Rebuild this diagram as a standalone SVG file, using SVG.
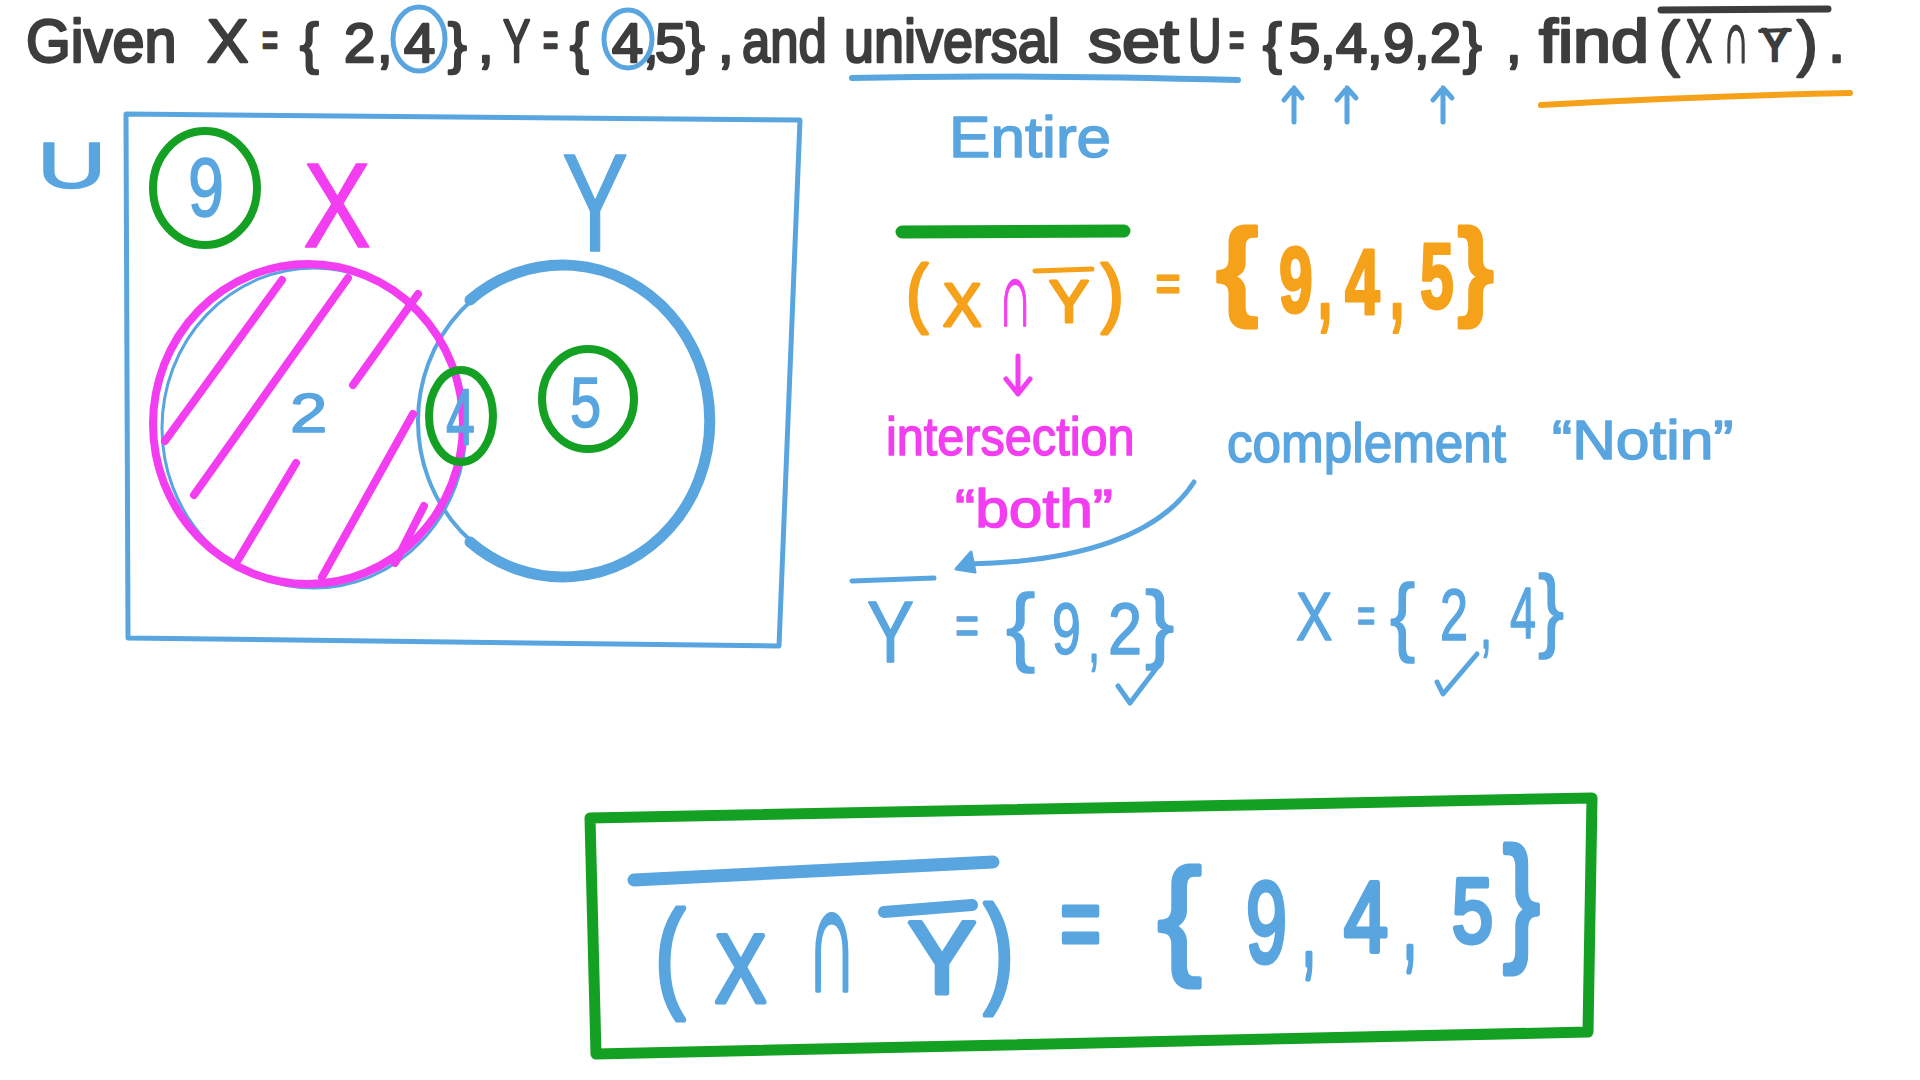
<svg xmlns="http://www.w3.org/2000/svg" width="1920" height="1080" viewBox="0 0 1920 1080">
<style>
text{font-family:"Liberation Sans",Arial,sans-serif;stroke-linejoin:round;paint-order:stroke}
.dk{fill:#3d3d3d;stroke:#3d3d3d;stroke-width:2.5}
.bl{fill:#58a5e0;stroke:#58a5e0;stroke-width:1.5}
.mg{fill:#f23ef0;stroke:#f23ef0;stroke-width:1.5}
.or{fill:#f5a11a;stroke:#f5a11a;stroke-width:3}
.ln{fill:none;stroke-linecap:round;stroke-linejoin:round}
.lb{stroke:#58a5e0}
.lm{stroke:#f23ef0}
.lg{stroke:#14a023}
.lo{stroke:#f5a11a}
.ld{stroke:#3d3d3d}
.big{stroke-width:5}
</style>
<rect width="1920" height="1080" fill="#ffffff"/>

<g id="title" font-size="62">
  <text class="dk" transform="translate(26,62) scale(0.93,1)">Given</text>
  <text class="dk" x="207" y="62">X</text>
  <text class="dk" transform="translate(262,56) scale(0.57,1)" font-size="48">=</text>
  <text class="dk" x="300 344 377 404 448 478" y="62" font-size="56">{2,4},</text>
  <text class="dk" transform="translate(503,62) scale(0.66,1)">Y</text>
  <text class="dk" transform="translate(543,56) scale(0.54,1)" font-size="48">=</text>
  <text class="dk" x="570 612 643 655 686 718" y="62" font-size="56">{4,5},</text>
  <text class="dk" transform="translate(742,62) scale(0.82,1)">and</text>
  <text class="dk" transform="translate(844,62) scale(0.87,1)">universal</text>
  <text class="dk" transform="translate(1088,62) scale(1.1,1)">set</text>
  <text class="dk" transform="translate(1188,62) scale(0.75,1)">U</text>
  <text class="dk" transform="translate(1229,56) scale(0.54,1)" font-size="48">=</text>
  <text class="dk" x="1263 1289 1320 1336 1367 1383 1414 1430 1463 1506" y="62" font-size="56">{5,4,9,2},</text>
  <text class="dk" transform="translate(1539,62) scale(1.1,1)">find</text>
  <text class="dk" x="1659" y="64">(</text>
  <text class="dk" transform="translate(1686,62) scale(0.63,1)">X</text>
  <text class="dk" transform="translate(1723,62) scale(0.5,1)" font-size="72">∩</text>
  <text class="dk" transform="translate(1761,61) scale(0.9,1)" font-size="46">Y</text>
  <text class="dk" x="1797" y="64">)</text>
  <text class="dk" x="1828" y="62">.</text>
  <path class="ln ld" stroke-width="7" d="M1661,10 L1828,9"/>
  <path class="ln ld" stroke-width="4" d="M1760,31 L1790,30"/>
  <ellipse class="ln lb" stroke-width="5" cx="419" cy="39" rx="26" ry="32"/>
  <ellipse class="ln lb" stroke-width="5" cx="628" cy="39" rx="24" ry="29"/>
  <path class="ln lb" stroke-width="6" d="M852,78 Q1000,74 1238,80"/>
  <path class="ln lo" stroke-width="6" d="M1541,105 Q1700,96 1850,93"/>
  <path class="ln lb" stroke-width="5" d="M1294,122 L1294,88 M1284,100 L1294,88 L1302,98 M1347,122 L1347,88 M1337,100 L1347,88 L1356,98 M1443,122 L1443,88 M1433,100 L1443,88 L1452,98"/>
</g>

<g id="venn">
  <path class="ln lb" stroke-width="5" d="M126,114 L800,120 L779,646 L128,638 Z"/>
  <text class="bl" transform="translate(37,188) scale(1.5,1)" font-size="64">U</text>
  <ellipse class="ln lb" stroke-width="3" cx="314" cy="428" rx="152" ry="160"/>
  <ellipse class="ln lb" stroke-width="4" cx="565" cy="421" rx="147" ry="156"/>
  <path class="ln lb" stroke-width="11" d="M470,300 A147,156 0 1 1 470,542"/>
  <g class="ln lm" stroke-width="8">
    <ellipse cx="308" cy="424" rx="155" ry="160"/>
    <path d="M282,280 L165,441 M348,278 L194,495 M418,294 L353,385 M296,463 L238,560 M413,414 L322,577 M424,506 L395,563"/>
  </g>
  <ellipse class="ln lg" stroke-width="8" cx="205" cy="188" rx="52" ry="57"/>
  <ellipse class="ln lg" stroke-width="8" cx="461" cy="416" rx="32" ry="46"/>
  <ellipse class="ln lg" stroke-width="8" cx="588" cy="399" rx="46" ry="50"/>
  <text class="bl" transform="translate(188,216) scale(0.77,1)" font-size="84">9</text>
  <text class="mg" transform="translate(303,247) scale(0.85,1)" font-size="120" stroke-width="4">X</text>
  <text class="bl" transform="translate(562,251) scale(0.71,1)" font-size="140" stroke-width="5">Y</text>
  <text class="bl" transform="translate(290,432) scale(1.2,1)" font-size="56">2</text>
  <text class="bl" transform="translate(446,444) scale(0.65,1)" font-size="80">4</text>
  <text class="bl" transform="translate(570,427) scale(0.8,1)" font-size="70">5</text>
</g>

<g id="work">
  <text class="bl" transform="translate(949,157) scale(1.07,1)" font-size="58">Entire</text>
  <path class="ln lg" stroke-width="13" d="M902,232 L1124,231"/>
  <text class="or" transform="translate(906,318) scale(0.88,1)" font-size="76">(</text>
  <text class="or" transform="translate(943,326) scale(0.93,1)" font-size="62">X</text>
  <text class="mg" transform="translate(998,326) scale(0.52,1)" font-size="92" stroke-width="3">∩</text>
  <text class="or" x="1049" y="322" font-size="60">Y</text>
  <path class="ln lo" stroke-width="5" d="M1035,271 L1092,269"/>
  <text class="or" transform="translate(1101,318) scale(0.9,1)" font-size="76">)</text>
  <text class="or" transform="translate(1156,300) scale(0.83,1)" font-size="50">=</text>
  <g font-weight="bold">
    <text class="or" x="1216" y="305" font-size="110">{</text>
    <text class="or" transform="translate(1279,312) scale(0.66,1)" font-size="92">9</text>
    <text class="or" transform="translate(1318,318) scale(0.55,1)" font-size="92">,</text>
    <text class="or" transform="translate(1345,314) scale(0.68,1)" font-size="92">4</text>
    <text class="or" transform="translate(1390,318) scale(0.55,1)" font-size="92">,</text>
    <text class="or" transform="translate(1420,308) scale(0.66,1)" font-size="92">5</text>
    <text class="or" transform="translate(1457,305) scale(0.86,1)" font-size="110">}</text>
  </g>

  <path class="ln lm" stroke-width="5" d="M1018,356 L1018,393 M1006,379 L1018,394 L1030,379"/>
  <text class="mg" transform="translate(886,455) scale(0.9,1)" font-size="54">intersection</text>
  <text class="mg" transform="translate(955,527) scale(1.12,1)" font-size="54">“both”</text>
  <text class="bl" transform="translate(1227,462) scale(0.915,1)" font-size="56">complement</text>
  <text class="bl" transform="translate(1552,459) scale(1.08,1)" font-size="56">“Notin”</text>

  <g id="connectors">
    <path class="ln lb" stroke-width="5" d="M1194,482 C1160,535 1080,562 968,564"/>
    <path fill="#58a5e0" stroke="#58a5e0" stroke-width="3" stroke-linejoin="round" d="M956,569 L971,552 L975,572 Z"/>
  </g>

  <path class="ln lb" stroke-width="5" d="M852,581 L934,578"/>
  <text class="bl" transform="translate(867,662) scale(0.8,1)" font-size="88">Y</text>
  <text class="bl" transform="translate(955,644) scale(0.73,1)" font-size="56">=</text>
  <text class="bl" x="1006" y="655" font-size="88">{</text>
  <text class="bl" transform="translate(1052,654) scale(0.72,1)" font-size="72">9</text>
  <text class="bl" transform="translate(1088,662) scale(0.6,1)" font-size="72">,</text>
  <text class="bl" transform="translate(1108,654) scale(0.85,1)" font-size="72">2</text>
  <text class="bl" x="1145" y="652" font-size="88">}</text>
  <path class="ln lb" stroke-width="5" d="M1118,686 L1130,703 L1158,666"/>

  <text class="bl" transform="translate(1296,640) scale(0.8,1)" font-size="68">X</text>
  <text class="bl" transform="translate(1357,632) scale(0.62,1)" font-size="50">=</text>
  <text class="bl" transform="translate(1390,645) scale(0.86,1)" font-size="88">{</text>
  <text class="bl" transform="translate(1440,640) scale(0.7,1)" font-size="72">2</text>
  <text class="bl" transform="translate(1480,648) scale(0.6,1)" font-size="72">,</text>
  <text class="bl" transform="translate(1510,638) scale(0.65,1)" font-size="72">4</text>
  <text class="bl" transform="translate(1538,640) scale(0.85,1)" font-size="92">}</text>
  <path class="ln lb" stroke-width="5" d="M1437,682 L1443,694 L1477,654"/>
</g>

<g id="answer">
  <path class="ln lg" stroke-width="11" d="M590,818 L1592,798 L1588,1032 L596,1054 Z"/>
  <path class="ln lb" stroke-width="13" d="M634,880 L993,862"/>
  <text class="bl big" transform="translate(655,995) scale(0.75,1)" font-size="120">(</text>
  <text class="bl big" transform="translate(715,1002) scale(0.8,1)" font-size="96">X</text>
  <text class="bl big" transform="translate(807,990) scale(0.46,1)" font-size="150">∩</text>
  <text class="bl big" x="908" y="993" font-size="102">Y</text>
  <path class="ln lb" stroke-width="12" d="M884,912 L972,905"/>
  <text class="bl big" transform="translate(984,990) scale(0.75,1)" font-size="120">)</text>
  <text class="bl big" transform="translate(1060,960) scale(0.64,1)" font-size="110">=</text>
  <text class="bl big" x="1158" y="960" font-size="130">{</text>
  <text class="bl big" transform="translate(1246,962) scale(0.64,1)" font-size="115">9</text>
  <text class="bl big" transform="translate(1302,965) scale(0.45,1)" font-size="110">,</text>
  <text class="bl big" transform="translate(1344,952) scale(0.79,1)" font-size="100">4</text>
  <text class="bl big" transform="translate(1403,958) scale(0.45,1)" font-size="110">,</text>
  <text class="bl big" transform="translate(1452,942) scale(0.82,1)" font-size="90">5</text>
  <text class="bl big" transform="translate(1503,945) scale(0.79,1)" font-size="140">}</text>
</g>
</svg>
